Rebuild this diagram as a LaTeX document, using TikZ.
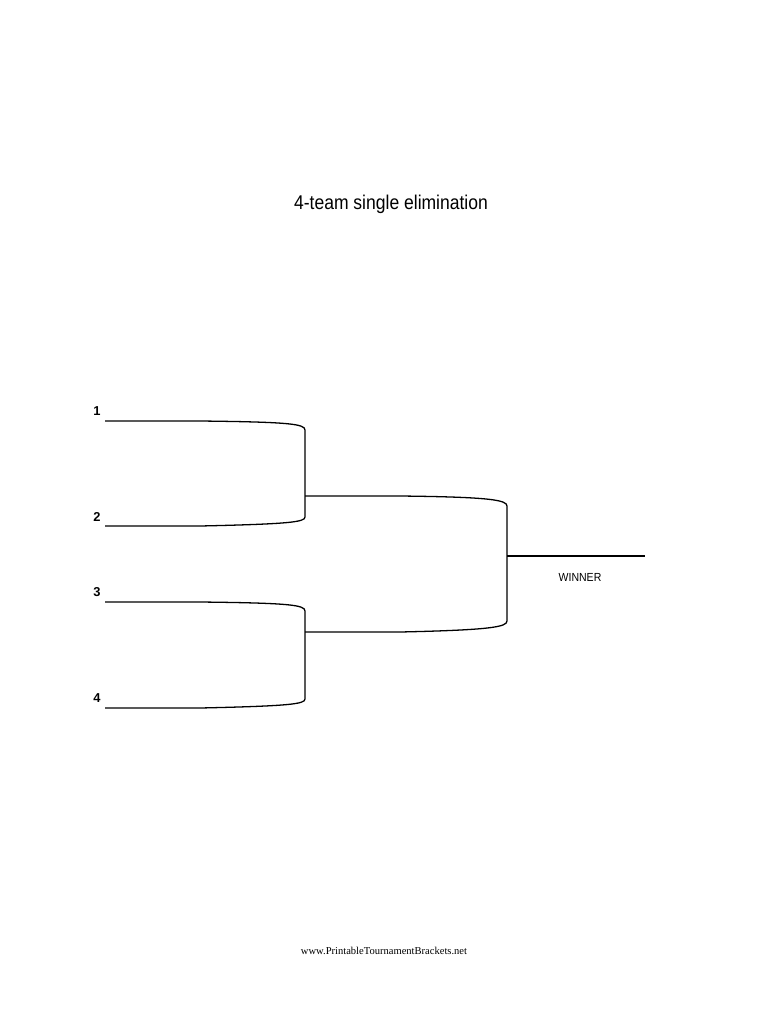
\documentclass[tikz,border=0pt]{standalone}
\usepackage{fontspec}
\setmainfont{Liberation Sans}
\newfontfamily\footfont{Liberation Serif}
\begin{document}
\begin{tikzpicture}[x=0.03cm,y=-0.03cm]
\tikzset{seed/.style={font=\bfseries\fontsize{11}{13}\selectfont,inner sep=0pt},
  bline/.style={line width=1.1pt,black}}
\useasboundingbox (0,0) rectangle (768,1024);
% title and footer
\node (title) at (391,204) {\fontsize{17}{20}\selectfont\scalebox{0.88}[1]{4-team single elimination}};
\node (foot) at (384,951) {\footfont\fontsize{9}{11}\selectfont www.PrintableTournamentBrackets.net};
% seeds
\node[seed] (s1) at (97,411) {1};
\node[seed] (s2) at (97,517) {2};
\node[seed] (s3) at (97,592) {3};
\node[seed] (s4) at (97,698) {4};
\foreach \n/\y in {1/421,2/526,3/602,4/708} \coordinate (t\n) at (105,\y);
\coordinate (w1) at (305,496);
\coordinate (w2) at (305,632);
% first round
\draw[bline] (t1) -- (200,421) .. controls (290,422) and (305,424) .. (305,430) -- (305,517)
  .. controls (305,522) and (290,524) .. (200,526) -- (t2);
\draw[bline] (t3) -- (200,602) .. controls (290,603) and (305,605) .. (305,611) -- (305,699)
  .. controls (305,704) and (290,706) .. (200,708) -- (t4);
% final
\draw[bline] (w1) -- (400,496) .. controls (490,497) and (507,500) .. (507,506) -- (507,621)
  .. controls (507,627) and (490,630) .. (400,632) -- (w2);
\coordinate (wend) at (645,556);
\draw[bline] (507,556) -- (wend);
\node (winner) at (580,577) {\fontsize{10}{12}\selectfont\scalebox{0.9}[1]{WINNER}};
\end{tikzpicture}
\end{document}
